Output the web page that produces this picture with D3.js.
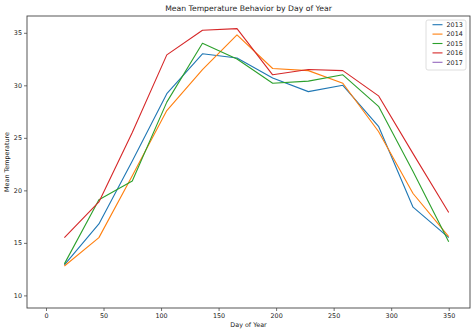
<!DOCTYPE html>
<html>
<head>
<meta charset="utf-8">
<script src="https://cdn.jsdelivr.net/npm/d3@7"></script>
<style>
	body { margin: 0; background: #fff; }
	text { font-family: "DejaVu Sans", sans-serif; fill: #222; }
</style>
</head>
<body>
<div id="tempChart"></div>
<script>
// monthly means, plotted at the middle day of each month
var days = [16, 46, 75, 105, 136, 166, 197, 228, 258, 289, 319, 350];
var years = ['2013', '2014', '2015', '2016', '2017'];
var temp2013 = [12.9, 16.8, 22.8, 29.2, 33.0, 32.6, 30.7, 29.4, 30.0, 26.1, 18.4, 15.5];
var temp2014 = [12.8, 15.5, 21.4, 27.6, 31.5, 34.8, 31.6, 31.4, 30.2, 25.6, 19.7, 15.6];
var temp2015 = [13.0, 19.1, 20.9, 28.4, 34.0, 32.5, 30.2, 30.4, 31.0, 28.0, 21.8, 15.1];
var temp2016 = [15.5, 18.9, 25.5, 32.9, 35.25, 35.4, 31.0, 31.5, 31.4, 29.0, 23.5, 17.9];
var temp2017 = [];
var xTicks = [0, 50, 100, 150, 200, 250, 300, 350];
var yTicks = [10, 15, 20, 25, 30, 35];
var xLimits = [-16.5, 368.5];
var yLimits = [8.8, 36.6];

var colors = ['#1f77b4', '#ff7f0e', '#2ca02c', '#d62728', '#9467bd'];
var series = [temp2013, temp2014, temp2015, temp2016, temp2017];

var width = 474, height = 333;
var margin = { top: 16, right: 4, bottom: 25, left: 27 };
var w = width - margin.left - margin.right;
var h = height - margin.top - margin.bottom;

var svg = d3.select('#tempChart').append('svg')
	.attr('width', width)
	.attr('height', height);

var g = svg.append('g')
	.attr('transform', 'translate(' + margin.left + ',' + margin.top + ')');

var x = d3.scaleLinear().domain(xLimits).range([0, w]);
var y = d3.scaleLinear().domain(yLimits).range([h, 0]);

var line = d3.line()
	.x(function(d) { return x(d.day); })
	.y(function(d) { return y(d.value); });

// Lines, one per year
series.forEach(function(vals, i) {
	var pts = vals.map(function(v, j) { return { day: days[j], value: v }; });
	if (pts.length < 2) return;
	g.append('path')
		.datum(pts)
		.attr('fill', 'none')
		.attr('stroke', colors[i])
		.attr('stroke-width', 1.1)
		.attr('stroke-linejoin', 'round')
		.attr('d', line);
});

// Axes
var xAxis = g.append('g')
	.attr('transform', 'translate(0,' + h + ')')
	.call(d3.axisBottom(x).tickValues(xTicks).tickSize(3).tickPadding(2).tickSizeOuter(0));
var yAxis = g.append('g')
	.call(d3.axisLeft(y).tickValues(yTicks).tickSize(3).tickPadding(2).tickSizeOuter(0));

[xAxis, yAxis].forEach(function(a) {
	a.select('.domain').remove();
	a.selectAll('.tick line').attr('stroke', '#333').attr('stroke-width', 0.7);
	a.selectAll('.tick text').style('font-size', '6.4px').attr('fill', '#222');
});

// Frame
g.append('rect')
	.attr('width', w)
	.attr('height', h)
	.attr('fill', 'none')
	.attr('stroke', '#444')
	.attr('stroke-width', 0.9);

// Title and labels
svg.append('text')
	.attr('x', margin.left + w / 2)
	.attr('y', 11)
	.attr('text-anchor', 'middle')
	.style('font-size', '7.7px')
	.text('Mean Temperature Behavior by Day of Year');

svg.append('text')
	.attr('x', margin.left + w / 2)
	.attr('y', 327)
	.attr('text-anchor', 'middle')
	.style('font-size', '6.4px')
	.text('Day of Year');

svg.append('text')
	.attr('transform', 'translate(9,' + (margin.top + h / 2) + ') rotate(-90)')
	.attr('text-anchor', 'middle')
	.style('font-size', '6.4px')
	.text('Mean Temperature');

// Legend
var legend = svg.append('g')
	.attr('transform', 'translate(426,20)');
legend.append('rect')
	.attr('width', 40)
	.attr('height', 50)
	.attr('rx', 2)
	.attr('fill', '#fff')
	.attr('fill-opacity', 0.8)
	.attr('stroke', '#d6d6d6')
	.attr('stroke-width', 0.8);

years.forEach(function(yr, i) {
	var row = legend.append('g')
		.attr('transform', 'translate(0,' + (4.7 + i * 9.4) + ')');
	row.append('line')
		.attr('x1', 6.5)
		.attr('x2', 16.5)
		.attr('stroke', colors[i])
		.attr('stroke-width', 1.1);
	row.append('text')
		.attr('x', 20.5)
		.attr('dy', '0.35em')
		.style('font-size', '6.4px')
		.text(yr);
});
</script>
</body>
</html>
